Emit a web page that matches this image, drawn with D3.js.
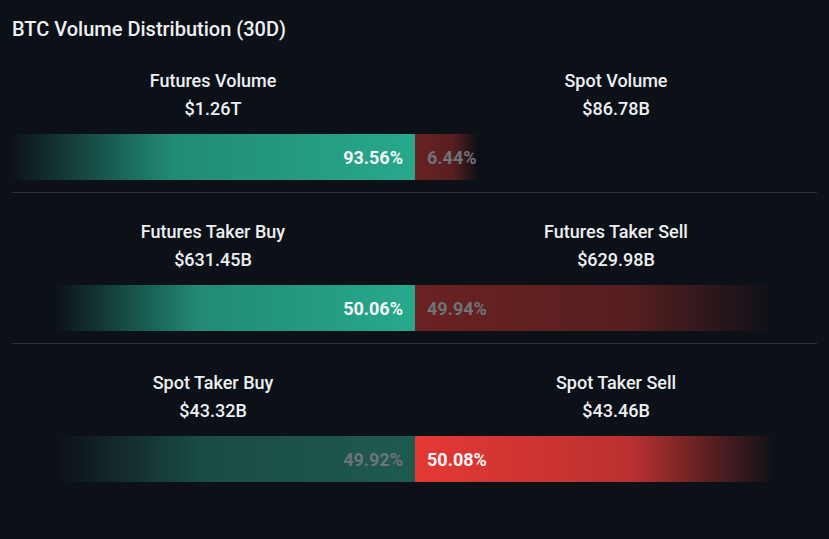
<!DOCTYPE html>
<html><head><meta charset="utf-8">
<script src="https://cdn.jsdelivr.net/npm/d3@7"></script>
<style>body{margin:0;background:#0c1017;}svg{display:block;font-family:"Roboto","Noto Sans",sans-serif;}</style>
</head><body><svg id="c" width="829" height="539"></svg>
<script>
const title = "BTC Volume Distribution (30D)";
const leftLabels = ["Futures Volume", "Futures Taker Buy", "Spot Taker Buy"];
const rightLabels = ["Spot Volume", "Futures Taker Sell", "Spot Taker Sell"];
const leftValues = ["$1.26T", "$631.45B", "$43.32B"];
const rightValues = ["$86.78B", "$629.98B", "$43.46B"];
const leftPct = [93.56, 50.06, 49.92];
const rightPct = [6.44, 49.94, 50.08];

const svg = d3.select("#c");
const cx = 415, rowH = 151, top0 = 134, barH = 46;
const w = d3.scaleLinear().domain([0, 56.25]).range([0, 405]).clamp(true);
const row = d3.scaleLinear().domain([0, 1]).range([top0, top0 + rowH]);
const minW = 63;

svg.append("text").attr("x", 12).attr("y", 36).attr("fill", "#eef0f3")
  .attr("font-size", 20).attr("font-weight", 500).text(title);

const defs = svg.append("defs");
function grad(id, color, dir) {
  const g = defs.append("linearGradient").attr("id", id)
    .attr("x1", dir < 0 ? 1 : 0).attr("x2", dir < 0 ? 0 : 1).attr("y1", 0).attr("y2", 0);
  g.append("stop").attr("offset", 0).attr("stop-color", color).attr("stop-opacity", 1);
  g.append("stop").attr("offset", 0.6).attr("stop-color", color).attr("stop-opacity", 0.8);
  g.append("stop").attr("offset", 1).attr("stop-color", color).attr("stop-opacity", 0);
}
grad("gB", "#27a98c", -1);
grad("gBd", "#1e5a50", -1);
grad("gS", "#e53935", 1);
grad("gSd", "#6a2222", 1);

leftPct.forEach((lp, i) => {
  const rp = rightPct[i];
  const y = row(i);
  const lw = Math.max(w(lp), minW), rw = Math.max(w(rp), minW);
  const lWin = lp >= rp;
  svg.append("rect").attr("x", cx - lw).attr("y", y).attr("width", lw).attr("height", barH)
    .attr("fill", lWin ? "url(#gB)" : "url(#gBd)");
  svg.append("rect").attr("x", cx).attr("y", y).attr("width", rw).attr("height", barH)
    .attr("fill", lWin ? "url(#gSd)" : "url(#gS)");
  svg.append("text").attr("x", cx - 12).attr("y", y + 30).attr("text-anchor", "end")
    .attr("font-size", 18).attr("font-weight", 700).attr("fill", lWin ? "#f2f4f5" : "#6e7479")
    .text(lp.toFixed(2) + "%");
  svg.append("text").attr("x", cx + 12).attr("y", y + 30)
    .attr("font-size", 18).attr("font-weight", 700).attr("fill", lWin ? "#6e7479" : "#f2f4f5")
    .text(rp.toFixed(2) + "%");
  [[213, leftLabels[i], leftValues[i]], [616, rightLabels[i], rightValues[i]]].forEach(([x, l, v]) => {
    svg.append("text").attr("x", x).attr("y", y - 47).attr("text-anchor", "middle")
      .attr("font-size", 18).attr("font-weight", 500).attr("fill", "#eef0f3").text(l);
    svg.append("text").attr("x", x).attr("y", y - 19).attr("text-anchor", "middle")
      .attr("font-size", 18).attr("font-weight", 500).attr("fill", "#eef0f3").text(v);
  });
  if (i < leftPct.length - 1) {
    svg.append("line").attr("x1", 12).attr("x2", 817).attr("y1", y + 58.5).attr("y2", y + 58.5)
      .attr("stroke", "#2c3138").attr("stroke-width", 1);
  }
});
</script></body></html>
